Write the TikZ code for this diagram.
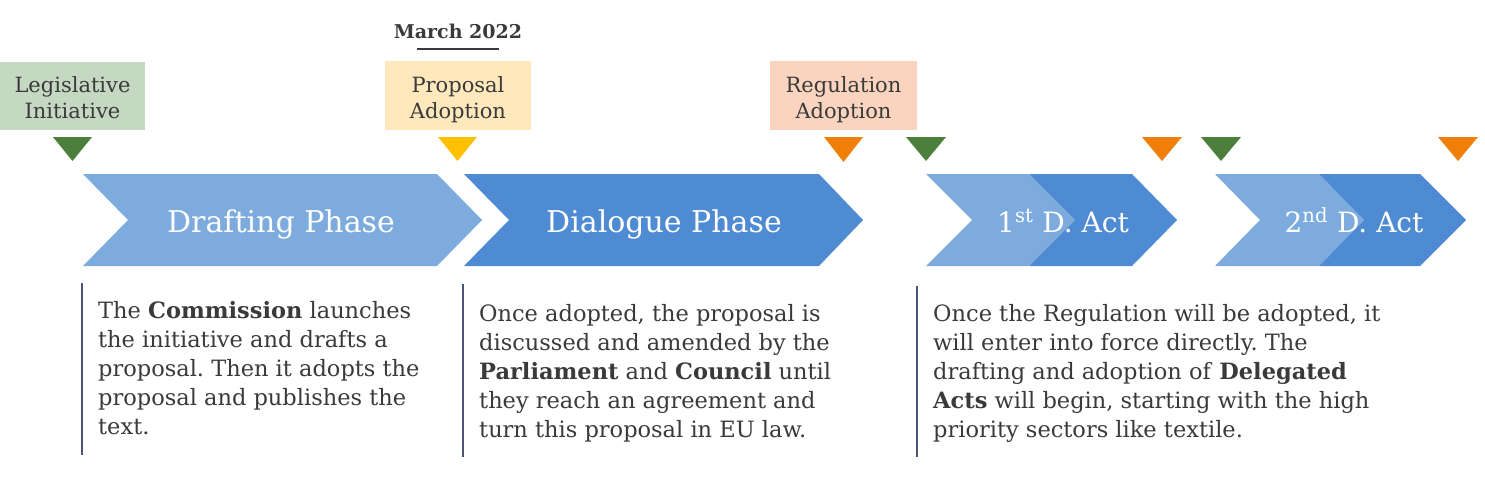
\documentclass[tikz,border=0pt]{standalone}
\usepackage{fontspec}
\setmainfont{DejaVu Serif}
\frenchspacing
\definecolor{lblue}{HTML}{7DABDE}
\definecolor{dblue}{HTML}{4E8BD3}
\definecolor{gbox}{HTML}{C5D8C2}
\definecolor{ybox}{HTML}{FFE9BC}
\definecolor{pbox}{HTML}{FAD4BE}
\definecolor{tgreen}{HTML}{4C7F3B}
\definecolor{tyellow}{HTML}{FFC000}
\definecolor{torange}{HTML}{F07F0A}
\definecolor{txt}{HTML}{3A3A3A}
\definecolor{linec}{HTML}{4A5578}
\tikzset{
  lbl/.style={font=\fontsize{21}{26}\selectfont, text=txt, align=center, inner sep=0pt, anchor=north},
  body/.style={font=\fontsize{22.5}{29}\selectfont, text=txt, align=left, inner sep=0pt, anchor=north west},
  phase/.style={font=\fontsize{30}{36}\selectfont, text=white, inner sep=0pt, anchor=base},
  actlbl/.style={font=\fontsize{28}{34}\selectfont, text=white, inner sep=0pt, anchor=base},
  vline/.style={draw=linec, line width=1.4pt},
}
\begin{document}
\begin{tikzpicture}[x=1pt,y=-1pt]
\useasboundingbox[fill=white] (0,0) rectangle (1485,479);
% label boxes
\fill[gbox] (0,62) rectangle (145,130);
\fill[ybox] (385,61) rectangle (531,130);
\fill[pbox] (770,61) rectangle (917,130);
\node[lbl] (li) at (72.5,76) {Legislative\\Initiative};
\node[lbl] (pa) at (458,76) {Proposal\\Adoption};
\node[lbl] (ra) at (843.5,76) {Regulation\\Adoption};
% March 2022
\node[font=\bfseries\fontsize{19}{23}\selectfont, text=txt, inner sep=0pt, anchor=base] (mar) at (458,38) {March 2022};
\draw[draw=txt, line width=1.2pt] (417,49) -- (499,49);
% triangles
\fill[tgreen] (53,137) -- (92,137) -- (72.5,161) -- cycle;
\fill[tyellow] (438,137) -- (477,137) -- (457.5,161) -- cycle;
\fill[torange] (824,137) -- (863,137) -- (843.5,162) -- cycle;
\fill[tgreen] (906,137) -- (946,137) -- (926,161) -- cycle;
\fill[torange] (1142,137) -- (1182,137) -- (1162,161) -- cycle;
\fill[tgreen] (1201,137) -- (1241,137) -- (1221,161) -- cycle;
\fill[torange] (1438,137) -- (1478,137) -- (1458,161) -- cycle;
% chevrons
\fill[lblue] (83,174) -- (437,174) -- (482,220) -- (437,266) -- (83,266) -- (128,220) -- cycle;
\fill[dblue] (464,174) -- (819,174) -- (863,220) -- (819,266) -- (464,266) -- (509,220) -- cycle;
\fill[lblue] (926,174) -- (1029,174) -- (1075,220) -- (1029,266) -- (926,266) -- (972,220) -- cycle;
\fill[dblue] (1029,174) -- (1132,174) -- (1177,220) -- (1132,266) -- (1029,266) -- (1075,220) -- cycle;
\fill[lblue] (1215,174) -- (1319,174) -- (1364,220) -- (1319,266) -- (1215,266) -- (1260,220) -- cycle;
\fill[dblue] (1319,174) -- (1420,174) -- (1466,220) -- (1420,266) -- (1319,266) -- (1364,220) -- cycle;
\node[phase] (dp) at (281,232) {Drafting Phase};
\node[phase] (dl) at (664,232) {Dialogue Phase};
\node[actlbl] (a1) at (1063,232) {1\textsuperscript{st} D. Act};
\node[actlbl] (a2) at (1354,232) {2\textsuperscript{nd} D. Act};
% vertical lines
\draw[vline] (82,283) -- (82,455);
\draw[vline] (463,284) -- (463,457);
\draw[vline] (917,286) -- (917,457);
% body texts
\node[body] (t1) at (98,301) {The \textbf{Commission} launches\\the initiative and drafts a\\proposal. Then it adopts the\\proposal and publishes the\\text.};
\node[body] (t2) at (479,304) {Once adopted, the proposal is\\discussed and amended by the\\\textbf{Parliament} and \textbf{Council} until\\they reach an agreement and\\turn this proposal in EU law.};
\node[body] (t3) at (933,304) {Once the Regulation will be adopted, it\\will enter into force directly. The\\drafting and adoption of \textbf{Delegated}\\\textbf{Acts} will begin, starting with the high\\priority sectors like textile.};
\end{tikzpicture}
\end{document}
